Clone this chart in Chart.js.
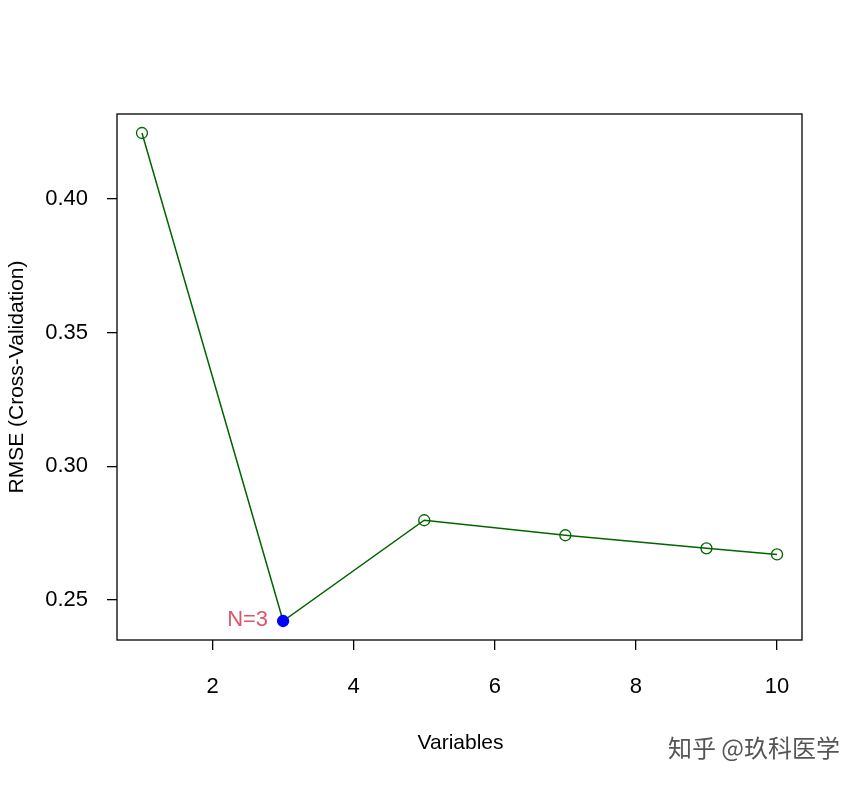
<!DOCTYPE html>
<html><head><meta charset="utf-8">
<script src="https://cdn.jsdelivr.net/npm/chart.js@4"></script>
<style>html,body{margin:0;padding:0;background:#fff}#c{display:block}</style>
</head><body>
<div style="width:860px;height:785px"><canvas id="c" width="860" height="785"></canvas></div>
<script>
const variables = [1, 3, 5, 7, 9, 10];
const rmse = [0.4247, 0.2421, 0.2798, 0.2742, 0.2693, 0.2670];
const xTicks = [2, 4, 6, 8, 10];
const yTicks = [0.25, 0.30, 0.35, 0.40];
const bestN = 3;

const pts = variables.map((v, i) => ({x: v, y: rmse[i]}));
const font = {family: 'Liberation Sans, Arial, sans-serif', size: 22};

const deco = {
  id: 'deco',
  afterDraw(chart) {
    const {ctx, chartArea: a, scales: {x, y}} = chart;
    ctx.save();
    ctx.strokeStyle = '#000'; ctx.lineWidth = 1.3;
    ctx.strokeRect(a.left, a.top, a.right - a.left, a.bottom - a.top);
    ctx.fillStyle = '#000';
    ctx.font = '21px Liberation Sans, Arial, sans-serif';
    ctx.textAlign = 'center'; ctx.textBaseline = 'middle';
    ctx.fillText('Variables', (a.left + a.right) / 2 + 1, 743);
    ctx.save();
    ctx.translate(17, (a.top + a.bottom) / 2);
    ctx.rotate(-Math.PI / 2);
    ctx.fillText('RMSE (Cross-Validation)', 0, 0);
    ctx.restore();
    const i = variables.indexOf(bestN);
    ctx.fillStyle = '#DF536B';
    ctx.textAlign = 'right';
    ctx.font = '22px Liberation Sans, Arial, sans-serif';
    ctx.fillText('N=' + bestN, x.getPixelForValue(bestN) - 15, y.getPixelForValue(rmse[i]) - 1);
    ctx.fillStyle = '#555';
    ctx.font = '24px Noto Sans CJK SC, sans-serif';
    ctx.textAlign = 'right';
    ctx.fillText('知乎 @玖科医学', 840, 748);
    ctx.restore();
  }
};

new Chart(document.getElementById('c'), {
  type: 'line',
  data: {datasets: [{
    data: pts,
    borderColor: '#006400', borderWidth: 1.5,
    pointRadius: 5.5, pointBorderWidth: 1.3,
    pointBorderColor: pts.map(p => p.x === bestN ? '#0000FF' : '#006400'),
    pointBackgroundColor: pts.map(p => p.x === bestN ? '#0000FF' : 'rgba(0,0,0,0)'),
    tension: 0
  }]},
  options: {
    responsive: false, animation: false,
    layout: {padding: {left: 0, right: 58, top: 114, bottom: 0}},
    plugins: {legend: {display: false}, tooltip: {enabled: false}},
    scales: {
      x: {type: 'linear', min: 0.646, max: 10.354,
        afterBuildTicks: s => { s.ticks = xTicks.map(v => ({value: v})); },
        afterFit: s => { s.height = 145; },
        grid: {drawOnChartArea: false, drawTicks: true, tickLength: 10, tickColor: '#000', lineWidth: 1.3},
        border: {display: false},
        ticks: {color: '#000', font, padding: 24, maxRotation: 0}
      },
      y: {type: 'linear', min: 0.235, max: 0.4318,
        afterBuildTicks: s => { s.ticks = yTicks.map(v => ({value: v})); },
        afterFit: s => { s.width = 117; },
        grid: {drawOnChartArea: false, drawTicks: true, tickLength: 10, tickColor: '#000', lineWidth: 1.3},
        border: {display: false},
        ticks: {color: '#000', font, padding: 19, callback: v => v.toFixed(2)}
      }
    }
  },
  plugins: [deco]
});
</script>
</body></html>
